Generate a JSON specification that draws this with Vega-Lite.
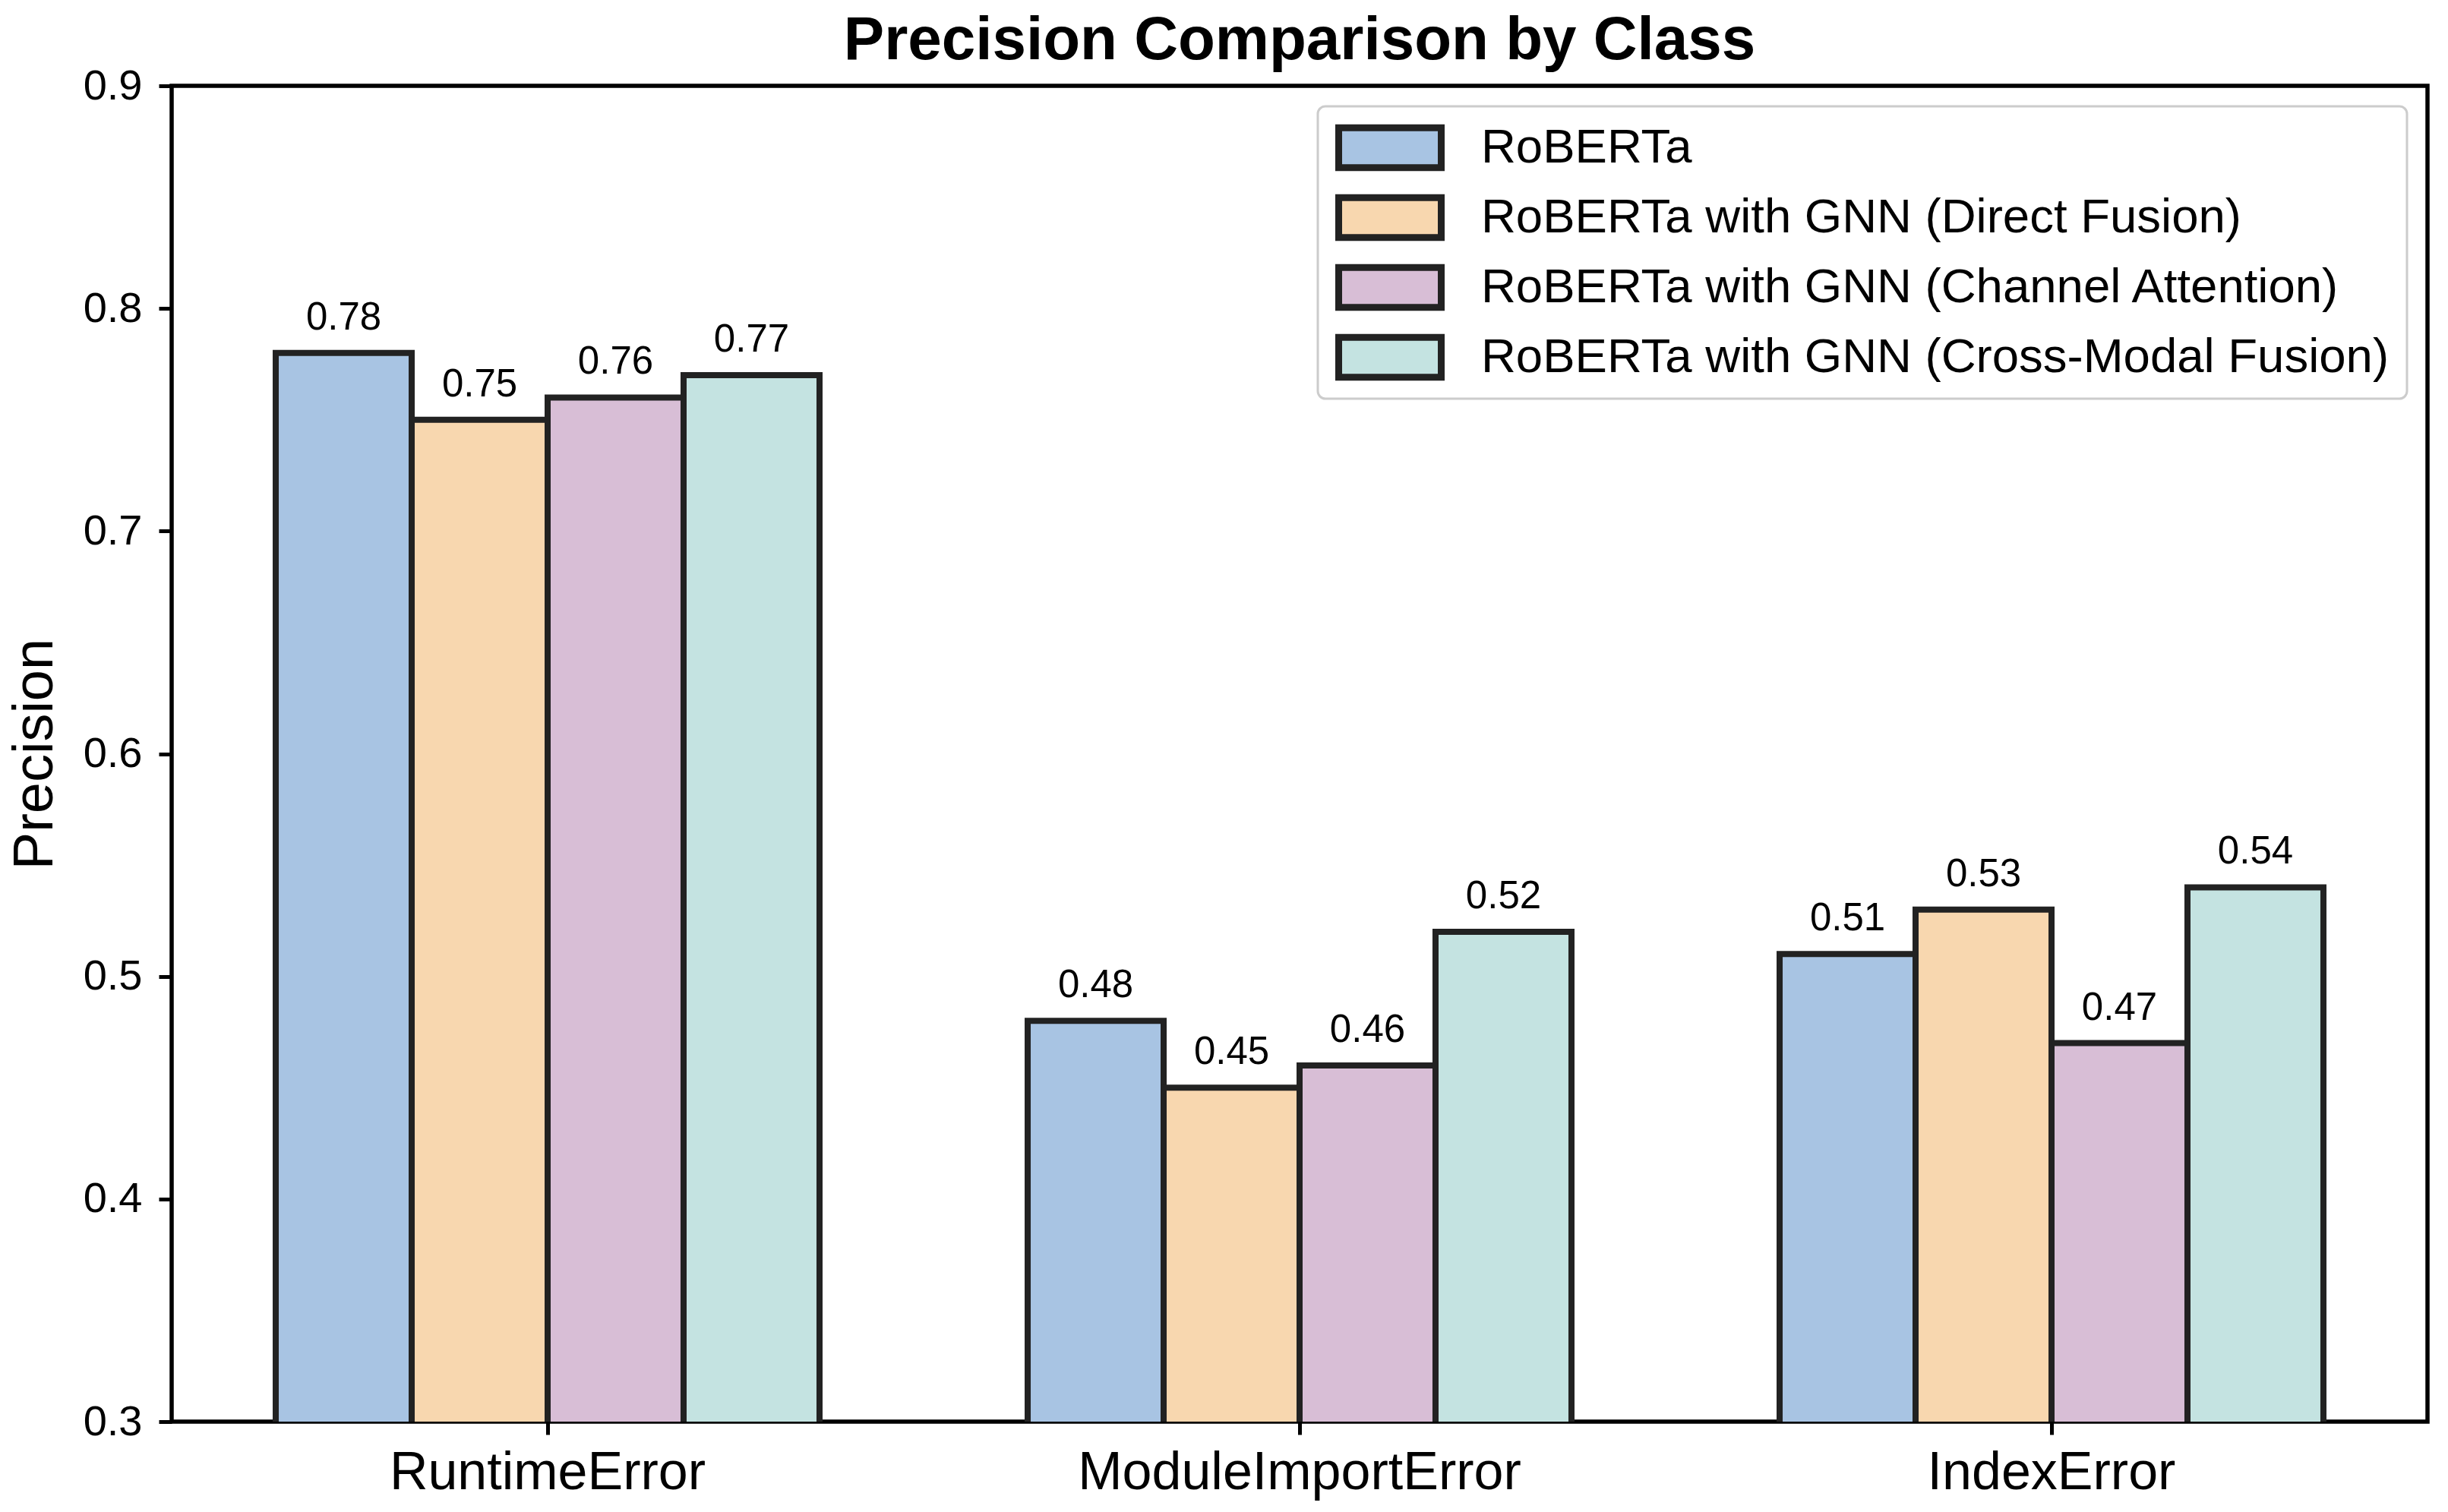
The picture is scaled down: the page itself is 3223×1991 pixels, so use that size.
{
  "$schema": "https://vega.github.io/schema/vega-lite/v6.json",
  "description": "Grouped bar chart: precision by error class for four RoBERTa variants.",
  "width": 2970,
  "height": 1759,
  "autosize": {"type": "none"},
  "padding": {"left": 226, "top": 113, "right": 27, "bottom": 119},
  "background": "white",
  "title": {
    "text": "Precision Comparison by Class",
    "anchor": "middle",
    "font": "Liberation Sans",
    "fontSize": 80,
    "fontWeight": "bold",
    "color": "black",
    "offset": -10
  },
  "data": {
    "values": [
      {"class": "RuntimeError", "model": "RoBERTa", "precision": 0.78},
      {"class": "RuntimeError", "model": "RoBERTa with GNN (Direct Fusion)", "precision": 0.75},
      {"class": "RuntimeError", "model": "RoBERTa with GNN (Channel Attention)", "precision": 0.76},
      {"class": "RuntimeError", "model": "RoBERTa with GNN (Cross-Modal Fusion)", "precision": 0.77},
      {"class": "ModuleImportError", "model": "RoBERTa", "precision": 0.48},
      {"class": "ModuleImportError", "model": "RoBERTa with GNN (Direct Fusion)", "precision": 0.45},
      {"class": "ModuleImportError", "model": "RoBERTa with GNN (Channel Attention)", "precision": 0.46},
      {"class": "ModuleImportError", "model": "RoBERTa with GNN (Cross-Modal Fusion)", "precision": 0.52},
      {"class": "IndexError", "model": "RoBERTa", "precision": 0.51},
      {"class": "IndexError", "model": "RoBERTa with GNN (Direct Fusion)", "precision": 0.53},
      {"class": "IndexError", "model": "RoBERTa with GNN (Channel Attention)", "precision": 0.47},
      {"class": "IndexError", "model": "RoBERTa with GNN (Cross-Modal Fusion)", "precision": 0.54}
    ]
  },
  "encoding": {
    "x": {
      "field": "class",
      "type": "nominal",
      "sort": ["RuntimeError", "ModuleImportError", "IndexError"],
      "title": null,
      "scale": {"paddingInner": 0.2768, "paddingOuter": 0.1384},
      "axis": {
        "labelAngle": 0,
        "labelFontSize": 70,
        "labelLimit": 1000,
        "labelPadding": 16,
        "tickSize": 17,
        "tickWidth": 5,
        "tickBand": "center"
      }
    },
    "xOffset": {
      "field": "model",
      "type": "nominal",
      "sort": [
        "RoBERTa",
        "RoBERTa with GNN (Direct Fusion)",
        "RoBERTa with GNN (Channel Attention)",
        "RoBERTa with GNN (Cross-Modal Fusion)"
      ],
      "scale": {"paddingInner": 0, "paddingOuter": 0}
    },
    "y": {
      "field": "precision",
      "type": "quantitative",
      "title": "Precision",
      "scale": {"domain": [0.3, 0.9], "zero": false, "nice": false},
      "axis": {
        "values": [0.3, 0.4, 0.5, 0.6, 0.7, 0.8, 0.9],
        "format": ".1f",
        "grid": false,
        "labelFontSize": 56,
        "labelPadding": 22,
        "tickSize": 17,
        "tickWidth": 5,
        "titleFontSize": 74,
        "titleFontWeight": "normal",
        "titlePadding": 25
      }
    }
  },
  "layer": [
    {
      "mark": {"type": "bar", "stroke": "#222222", "strokeWidth": 8, "opacity": 1, "clip": true},
      "encoding": {
        "color": {
          "field": "model",
          "type": "nominal",
          "sort": [
            "RoBERTa",
            "RoBERTa with GNN (Direct Fusion)",
            "RoBERTa with GNN (Channel Attention)",
            "RoBERTa with GNN (Cross-Modal Fusion)"
          ],
          "scale": {"range": ["#a8c4e3", "#f8d7af", "#d8bed6", "#c4e3e1"]},
          "legend": {
            "title": null,
            "orient": "top-right",
            "offset": 27,
            "padding": 23,
            "fillColor": "white",
            "strokeColor": "#cccccc",
            "cornerRadius": 10,
            "labelFontSize": 63.5,
            "labelFont": "Liberation Sans",
            "labelColor": "black",
            "labelOffset": 48,
            "labelLimit": 2000,
            "symbolType": "M-1,-0.39H1V0.39H-1Z",
            "symbolSize": 18225,
            "symbolStrokeColor": "#222222",
            "symbolStrokeWidth": 9,
            "symbolOpacity": 1,
            "clipHeight": 63,
            "rowPadding": 28
          }
        }
      }
    },
    {
      "mark": {"type": "text", "baseline": "alphabetic", "dy": -31, "fontSize": 51, "font": "Liberation Sans", "color": "black"},
      "encoding": {
        "text": {"field": "precision", "type": "quantitative", "format": ".2f"}
      }
    }
  ],
  "config": {
    "font": "Liberation Sans",
    "view": {"stroke": "black", "strokeWidth": 5.5},
    "legend": {"strokeWidth": 3},
    "axis": {
      "domain": false,
      "labelColor": "black",
      "tickColor": "black",
      "titleColor": "black",
      "labelFont": "Liberation Sans",
      "titleFont": "Liberation Sans"
    }
  }
}
